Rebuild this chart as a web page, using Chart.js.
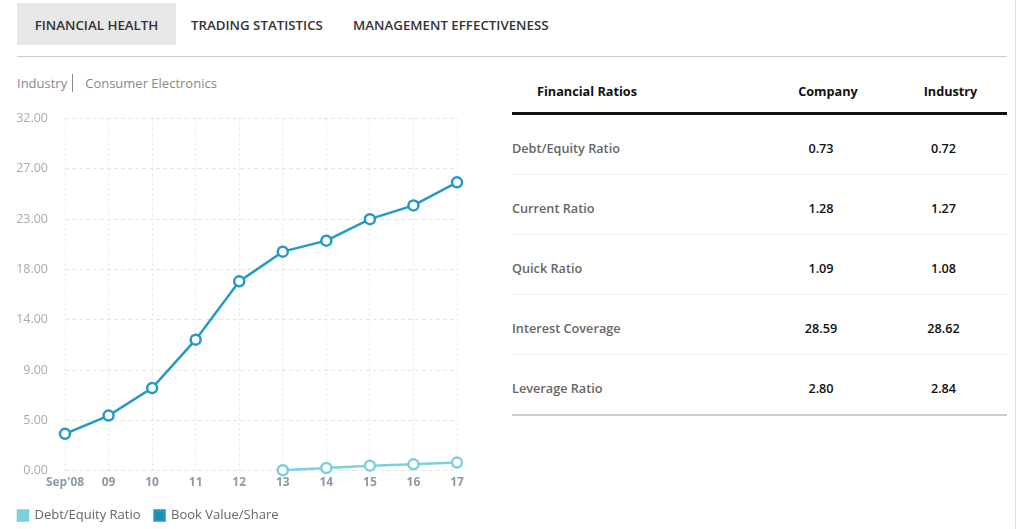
<!DOCTYPE html>
<html>
<head>
<meta charset="utf-8">
<script src="https://cdn.jsdelivr.net/npm/chart.js@4.4.0/dist/chart.umd.min.js"></script>
<style>
  html, body { margin: 0; padding: 0; background: #fff; }
  body { width: 1024px; height: 529px; position: relative; overflow: hidden; font-family: 'Open Sans', sans-serif; }
  .tab { position: absolute; top: 3px; height: 42px; line-height: 45px; font-size: 13.3px; font-weight: 600; color: #333; white-space: nowrap; }
  .tab.on { background: #e8e8e8; left: 17px; width: 159px; text-align: center; }
  .rule { position: absolute; left: 17px; width: 990px; top: 56px; border-top: 1px solid #ccc; }
  .edge { position: absolute; left: 1015px; top: 0; height: 529px; border-left: 1px solid #ddd; }
  .ind { position: absolute; left: 17px; top: 74px; font-size: 13px; color: #888; }
  .ind span { border-left: 1px solid #888; padding-left: 12px; margin-left: 5px; }
  #box { position: absolute; left: 0; top: 94px; width: 470px; height: 438px; }
  table { position: absolute; left: 512px; top: 70px; width: 495px; border-collapse: collapse; font-size: 12.7px; font-weight: 600; table-layout: fixed; }
  th { height: 42px; color: #111; border-bottom: 3px solid #111; padding: 0; }
  td { height: 52px; padding: 7px 14px 0 0; border-bottom: 1px solid #eee; color: #111; text-align: center; }
  td.l { text-align: left; color: #666; padding-right: 0; }
  tr:last-child td { border-bottom: 2px solid #ccc; }
</style>
</head>
<body>
<div class="tab on">FINANCIAL HEALTH</div>
<div class="tab" style="left:191px">TRADING STATISTICS</div>
<div class="tab" style="left:353px">MANAGEMENT EFFECTIVENESS</div>
<div class="rule"></div>
<div class="edge"></div>
<div class="ind">Industry<span>Consumer Electronics</span></div>
<div id="box"><canvas id="myChart"></canvas></div>
<table id="ratios">
  <tr><th style="text-align:left;padding-left:25px;width:225px">Financial Ratios</th><th style="width:132px">Company</th><th>Industry</th></tr>
</table>
<script>
// chart data
var years = ["Sep'08", "09", "10", "11", "12", "13", "14", "15", "16", "17"];
var debtEquity = [null, null, null, null, null, 0.03, 0.24, 0.45, 0.57, 0.73];
var bookValue = [3.34, 5.0, 7.5, 11.9, 17.2, 19.9, 20.9, 22.85, 24.1, 26.2];

// table data
var ratioNames = ["Debt/Equity Ratio", "Current Ratio", "Quick Ratio", "Interest Coverage", "Leverage Ratio"];
var companyVals = ["0.73", "1.28", "1.09", "28.59", "2.80"];
var industryVals = ["0.72", "1.27", "1.08", "28.62", "2.84"];

let tbl = document.getElementById('ratios');
for (let i = 0; i < ratioNames.length; i++) {
    let tr = document.createElement('tr');
    tr.innerHTML = '<td class="l">' + ratioNames[i] + '</td><td>' + companyVals[i] + '</td><td>' + industryVals[i] + '</td>';
    tbl.appendChild(tr);
}

Chart.defaults.font.family = "'Open Sans', sans-serif";

new Chart("myChart", {
    type: "line",
    data: {
        labels: years,
        datasets: [{
            label: "Debt/Equity Ratio",
            data: debtEquity,
            borderColor: "#7ccfdb",
            backgroundColor: "#7ccfdb",
            pointBackgroundColor: "#fff",
            pointBorderColor: "#7ccfdb",
            borderWidth: 2.5,
            pointRadius: 5,
            pointBorderWidth: 2.5,
            tension: 0
        }, {
            label: "Book Value/Share",
            data: bookValue,
            borderColor: "#2399c3",
            backgroundColor: "#1a8db5",
            pointBackgroundColor: "#fff",
            pointBorderColor: "#2399c3",
            borderWidth: 2.5,
            pointRadius: 5,
            pointBorderWidth: 2.5,
            tension: 0
        }]
    },
    options: {
        responsive: true,
        maintainAspectRatio: false,
        animation: false,
        clip: false,
        layout: { padding: { left: 4, right: 13, top: 0, bottom: 0 } },
        scales: {
            x: {
                grid: { color: "#e4e4e4", borderDash: [2, 3], drawTicks: false },
                border: { display: false, dash: [2, 3] },
                ticks: { color: "#8c9aa8", font: { size: 12, weight: "bold" }, padding: 5, maxRotation: 0, autoSkip: false }
            },
            y: {
                min: 0,
                max: 32,
                ticks: {
                    stepSize: 32 / 7,
                    color: "#aaa",
                    font: { size: 12.5 },
                    padding: 17,
                    callback: function (v) { return Math.round(v).toFixed(2); }
                },
                grid: { color: "#e4e4e4", borderDash: [4, 3], drawTicks: false },
                border: { display: false, dash: [4, 3] },
                afterFit: function (s) { s.width = 61; }
            }
        },
        plugins: {
            legend: {
                position: "bottom",
                align: "start",
                labels: { boxWidth: 10, boxHeight: 10, color: "#666", font: { size: 13 }, padding: 14 }
            },
            tooltip: { enabled: false }
        }
    }
});
</script>
</body>
</html>
